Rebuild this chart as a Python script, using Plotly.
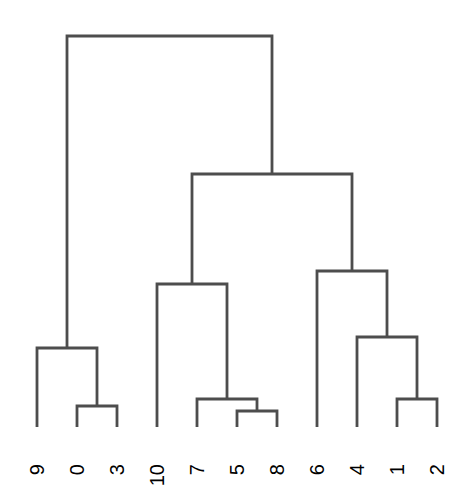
import plotly.graph_objects as go

# Leaf order (left to right) and merges (left child, right child, height)
leaves = ["9", "0", "3", "10", "7", "5", "8", "6", "4", "1", "2"]
merge_left = ["0", "5", "7", "10", "1", "4", "6", "c3", "9", "c8"]
merge_right = ["3", "8", "c1", "c2", "2", "c4", "c5", "c6", "c0", "c7"]
merge_height = [21, 16, 28, 143, 28, 90, 156, 253, 79, 391]

pos = {}
hgt = {}
for i, lab in enumerate(leaves):
    pos[lab] = 5 + 10 * i
    hgt[lab] = 0

xs, ys = [], []
for k, (a, b, h) in enumerate(zip(merge_left, merge_right, merge_height)):
    name = "c%d" % k
    xa, xb = pos[a], pos[b]
    xs += [xa, xa, xb, xb, None]
    ys += [hgt[a], h, h, hgt[b], None]
    pos[name] = (xa + xb) / 2
    hgt[name] = h

fig = go.Figure()
fig.add_trace(go.Scatter(x=xs, y=ys, mode="lines",
                         line=dict(color="#4d4d4d", width=2.8),
                         hoverinfo="skip", showlegend=False))

fig.update_layout(
    width=466, height=490,
    margin=dict(l=9, r=17, t=18, b=61),
    paper_bgcolor="white", plot_bgcolor="white",
    xaxis=dict(range=[0, 110], tickvals=[pos[l] for l in leaves], ticktext=leaves,
               tickangle=-90, showgrid=False, zeroline=False, showline=False,
               ticks="outside", ticklen=18, tickcolor="rgba(0,0,0,0)",
               automargin=False,
               tickfont=dict(family="Liberation Sans, Arial", size=20, color="black")),
    yaxis=dict(range=[-10, 401], visible=False, showgrid=False, zeroline=False),
)

fig.write_html("out.html")
